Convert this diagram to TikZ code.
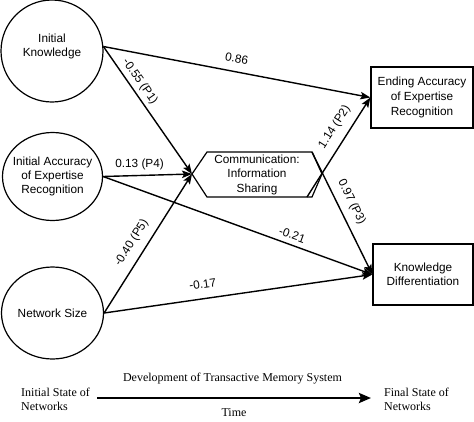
\documentclass[tikz,border=0pt]{standalone}
\usepackage{fontspec}
\setmainfont{Liberation Sans}
\newfontfamily\serifx{Liberation Serif}
\usetikzlibrary{arrows.meta,shapes.geometric}
\begin{document}
\begin{tikzpicture}[x=1pt,y=-1pt,
  ell/.style={draw,ellipse,line width=1.2pt,inner sep=0pt},
  box/.style={draw,rectangle,line width=1.3pt,inner sep=0pt,align=center,font=\fontsize{11.8}{14.8}\selectfont},
  txt/.style={align=center,font=\fontsize{11.8}{14}\selectfont,inner sep=0pt},
  arr/.style={line width=1.4pt,-{Stealth[length=10pt,width=7.5pt,inset=2pt]}},
  lbl/.style={font=\fontsize{11.8}{14}\selectfont,inner sep=1pt,text height=8.5pt,text depth=2.5pt},
  ser/.style={font=\serifx\fontsize{12}{13.5}\selectfont,align=left,inner sep=0pt}]
\useasboundingbox (0,0) rectangle (474,421);

% ellipses
\node[ell,minimum width=102pt,minimum height=102pt] (ik) at (52,51) {};
\node[txt] (ikt) at (52,46) {Initial\\Knowledge};
\node[ell,minimum width=100pt,minimum height=88pt] (ia) at (52.5,176.5) {};
\node[txt] (iat) at (52.5,176) {Initial Accuracy\\of Expertise\\Recognition};
\node[ell,minimum width=102pt,minimum height=92pt] (ns) at (52.5,313) {};
\node[txt] (nst) at (52.5,313) {Network Size};

% boxes
\node[box,minimum width=102pt,minimum height=61pt] (ea) at (422,97.5) {Ending Accuracy\\of Expertise\\Recognition};
\node[box,minimum width=100pt,minimum height=61pt,font=\fontsize{11.8}{14}\selectfont] (kd) at (423,274.5) {Knowledge\\Differentiation};

% hexagon
\coordinate (hl) at (192,174);
\coordinate (htl) at (207,152);
\coordinate (htr) at (312,152);
\coordinate (hr) at (322,174);
\coordinate (hbr) at (312,197);
\coordinate (hbl) at (207,197);
\coordinate (hs) at (307,197);
\draw[line width=1.2pt,line join=miter] (hl)--(htl)--(htr)--(hr)--(hbr)--(hbl)--cycle;
\node[txt,font=\fontsize{11.8}{14.5}\selectfont] (comm) at (257,174.5) {Communication:\\Information\\Sharing};

% connectors
\draw[arr] (ik.5) -- node[lbl,sloped,above=5pt,pos=0.49] (l1) {0.86} (ea.west);
\draw[arr] (ik.5) -- node[lbl,sloped,above=2.7pt,pos=0.32] (l2) {-0.55 (P1)} (hl);
\draw[arr] (ia.east) -- node[lbl,above=3.7pt,pos=0.41] (l3) {0.13 (P4)} (hl);
\draw[arr] (ia.east) -- node[lbl,sloped,above=1.5pt,pos=0.69] (l4) {-0.21} (kd.west);
\draw[arr] (ns.east) -- node[lbl,sloped,above=7pt,pos=0.45] (l5) {-0.40 (P5)} (hl);
\draw[arr] (ns.east) -- node[lbl,sloped,above=6.4pt,pos=0.375] (l6) {-0.17} (kd.west);
\draw[arr] (hs) -- node[lbl,sloped,above=7pt,pos=0.626] (l7) {1.14 (P2)} (ea.west);
\draw[arr] (htr) -- node[lbl,sloped,above=6pt,pos=0.458] (l8) {0.97 (P3)} (kd.west);

% time axis
\coordinate (tstart) at (97,398);
\coordinate (tend) at (371,398);
\draw[line width=2.6pt,-{Stealth[length=12pt,width=10pt,inset=2pt]}] (tstart) -- (tend);
\node[ser,anchor=west] (init) at (21,399.5) {Initial State of\\Networks};
\node[ser,anchor=west] (fin) at (384,399.5) {Final State of\\Networks};
\node[ser] (dev) at (232.5,379) {Development of Transactive Memory System};
\node[ser] (time) at (234,413) {Time};
\end{tikzpicture}
\end{document}
